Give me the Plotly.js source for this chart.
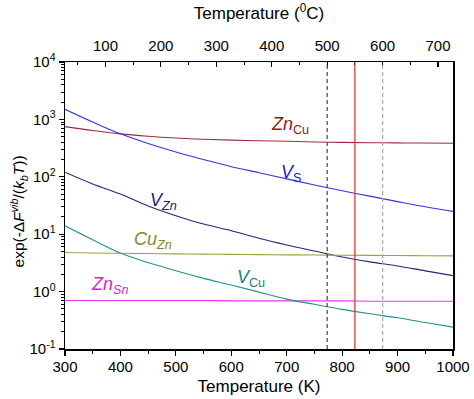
<!DOCTYPE html>
<html>
<head>
<meta charset="utf-8">
<script src="https://cdn.plot.ly/plotly-3.0.1.min.js"></script>
<style>html,body{margin:0;padding:0;background:#fff;}#chart{width:474px;height:399px;}</style>
</head>
<body>
<div id="chart"></div>
<script>
// Temperature grid (K)
const tempK = [300, 350, 400, 450, 500, 550, 600, 650, 700, 750, 800, 850, 900, 950, 1000];
// exp(-dF_vib/(kb T)) for each defect
const ZnCu = [750, 640, 560, 510, 475, 450, 435, 425, 415, 405, 398, 393, 390, 387, 385];
const VS   = [1500, 900, 560, 380, 270, 200, 150, 118, 92, 72, 57, 46, 37, 30, 25];
const VZn  = [120, 75, 50, 31, 21, 15, 11.5, 8.5, 6.5, 5.1, 4.0, 3.3, 2.8, 2.3, 1.9];
const CuZn = [4.8, 4.7, 4.65, 4.6, 4.55, 4.5, 4.45, 4.4, 4.37, 4.34, 4.3, 4.27, 4.25, 4.22, 4.2];
const ZnSn = [0.70, 0.70, 0.70, 0.70, 0.70, 0.70, 0.69, 0.69, 0.69, 0.69, 0.69, 0.68, 0.68, 0.68, 0.68];
const VCu  = [14, 8, 4.7, 3.2, 2.3, 1.7, 1.3, 0.98, 0.74, 0.6, 0.49, 0.41, 0.35, 0.29, 0.24];
// reference temperatures (K)
const vlineK = [773, 823, 873];
// tick labels
const yTickVals = [0.1, 1, 10, 100, 1000, 10000];
const yTickText = ['10<sup>-1</sup>', '10<sup>0</sup>', '10<sup>1</sup>', '10<sup>2</sup>', '10<sup>3</sup>', '10<sup>4</sup>'];
const celsiusTicks = [100, 200, 300, 400, 500, 600, 700];

const series = [
  {y: ZnCu, color: '#a02a3a'},
  {y: VS, color: '#3535e0'},
  {y: VZn, color: '#25257a'},
  {y: CuZn, color: '#a0a040'},
  {y: ZnSn, color: '#ee30ee'},
  {y: VCu, color: '#259090'}
];
const traces = series.map(s => ({
  x: tempK, y: s.y, type: 'scatter', mode: 'lines',
  line: {color: s.color, width: 1.1, shape: 'spline'}, showlegend: false, hoverinfo: 'skip'
}));
// helper trace for top Celsius axis
traces.push({x: tempK.map(k => k - 273), y: ZnSn, xaxis: 'x2', yaxis: 'y', type: 'scatter', mode: 'lines',
  line: {width: 0}, opacity: 0, showlegend: false, hoverinfo: 'skip'});

const vlineStyles = [
  {color: '#444444', dash: '4px,3px', width: 1.2},
  {color: '#e02828', dash: 'solid', width: 1.2},
  {color: '#a8a8a8', dash: '4px,3px', width: 1.2}
];
const shapes = vlineK.map((k, i) => ({
  type: 'line', xref: 'x', yref: 'paper', x0: k, x1: k, y0: 0, y1: 1,
  line: {color: vlineStyles[i].color, width: vlineStyles[i].width, dash: vlineStyles[i].dash}
}));

const F = 'Arial, "Liberation Sans", sans-serif';
const labels = [
  {x: 706, y: 2.90, text: '<i>Zn</i><sub>Cu</sub>', color: '#8b1a1a'},
  {x: 708, y: 2.066, text: '<i>V</i><sub>S</sub>', color: '#2020d0'},
  {x: 477, y: 1.578, text: '<i>V</i><sub><i>Zn</i></sub>', color: '#1a1a78'},
  {x: 459, y: 0.899, text: '<i>Cu</i><sub><i>Zn</i></sub>', color: '#85852a'},
  {x: 381, y: 0.098, text: '<i>Zn</i><sub><i>Sn</i></sub>', color: '#e020d8'},
  {x: 636, y: 0.237, text: '<i>V</i><sub>Cu</sub>', color: '#1a7f7f'}
];
const annotations = labels.map(l => ({
  x: l.x, y: l.y, xref: 'x', yref: 'y', text: l.text, showarrow: false,
  font: {family: F, size: 18, color: l.color}, xanchor: 'center', yanchor: 'middle'
}));
// y-axis title as rotated annotation
annotations.push({
  xref: 'paper', yref: 'paper', x: -0.118, y: 0.48, xanchor: 'center', yanchor: 'middle',
  textangle: -90, showarrow: false,
  text: 'exp(-Δ<i>F</i><sup><i>vib</i></sup>/(<i>k</i><sub><i>b</i></sub><i>T</i>))',
  font: {family: F, size: 15.5, color: '#000'}
});

const layout = {
  width: 474, height: 399,
  margin: {l: 65, r: 21, t: 62, b: 50},
  paper_bgcolor: '#fff', plot_bgcolor: '#fff',
  font: {family: F, size: 15, color: '#000'},
  showlegend: false,
  xaxis: {
    range: [300, 1000], dtick: 100, tick0: 300,
    ticks: 'outside', ticklen: 5, tickwidth: 1.2, tickcolor: '#000',
    minor: {dtick: 50, ticks: 'outside', ticklen: 3, tickwidth: 1, tickcolor: '#000', showgrid: false},
    showline: true, linecolor: '#000', linewidth: 1.5, mirror: true,
    showgrid: false, zeroline: false,
    ticklabelstandoff: -2,
    tickfont: {family: F, size: 15},
    title: {text: 'Temperature (K)', font: {family: F, size: 17}, standoff: 6}
  },
  xaxis2: {
    overlaying: 'x', side: 'top', anchor: 'y', range: [27, 727],
    tickvals: celsiusTicks, ticks: 'inside', ticklen: 5, tickwidth: 1.2, tickcolor: '#000',
    minor: {dtick: 50, ticks: 'inside', ticklen: 3, tickwidth: 1, tickcolor: '#000', showgrid: false},
    showline: true, linecolor: '#000', linewidth: 1.5,
    showgrid: false, zeroline: false,
    ticklabelstandoff: 4,
    tickfont: {family: F, size: 15},
    title: {text: 'Temperature (<sup>0</sup>C)', font: {family: F, size: 17}, standoff: 12}
  },
  yaxis: {
    type: 'log', range: [-1, 4],
    tickvals: yTickVals, ticktext: yTickText,
    ticks: 'outside', ticklen: 5, tickwidth: 1.2, tickcolor: '#000',
    minor: {dtick: 'D1', ticks: 'outside', ticklen: 3, tickwidth: 1, tickcolor: '#000', showgrid: false},
    showline: true, linecolor: '#000', linewidth: 1.5, mirror: true,
    showgrid: false, zeroline: false,
    tickfont: {family: F, size: 15}
  },
  shapes: shapes,
  annotations: annotations
};

Plotly.newPlot('chart', traces, layout, {staticPlot: true, displayModeBar: false});
</script>
</body>
</html>
